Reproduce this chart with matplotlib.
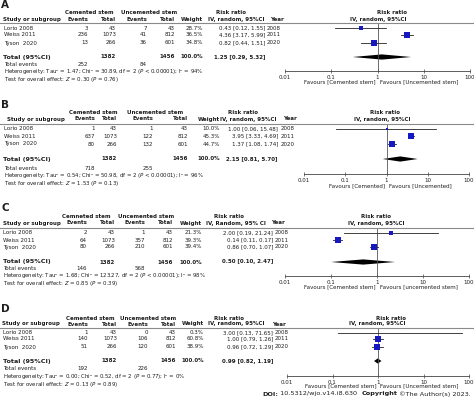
import matplotlib
matplotlib.use('Agg')
import matplotlib.pyplot as plt
from matplotlib.lines import Line2D
from matplotlib.ticker import NullLocator

W, H = 474, 399

# shared study info
studies = ['Lorio 2008', 'Weiss 2011', 'Tyson  2020']
years = ['2008', '2011', '2020']
cem_total = [43, 1073, 266]
unc_total = [43, 812, 601]

# panel A
a_cem_events = [3, 236, 13]
a_unc_events = [7, 41, 36]
a_weight = [28.7, 36.5, 34.8]
a_rr = [0.43, 4.36, 0.82]
a_lo = [0.12, 3.17, 0.44]
a_hi = [1.55, 5.99, 1.51]
a_total = [1.25, 0.29, 5.32]
a_het = 'Heterogeneity: Tau² = 1.47; Chi² = 30.89, df = 2 ($\\it{P}$ < 0.00001); I² = 94%'
a_test = 'Test for overall effect: $\\it{Z}$ = 0.30 ($\\it{P}$ = 0.76)'

# panel B
b_cem_events = [1, 637, 80]
b_unc_events = [1, 122, 132]
b_weight = [10.0, 45.3, 44.7]
b_rr = [1.00, 3.95, 1.37]
b_lo = [0.06, 3.33, 1.08]
b_hi = [15.48, 4.69, 1.74]
b_total = [2.15, 0.81, 5.70]
b_het = 'Heterogeneity: Tau² = 0.54; Chi² = 50.98, df = 2 ($\\it{P}$ < 0.00001); I² = 96%'
b_test = 'Test for overall effect: $\\it{Z}$ = 1.53 ($\\it{P}$ = 0.13)'

# panel C
c_cem_events = [2, 64, 80]
c_unc_events = [1, 357, 210]
c_weight = [21.3, 39.3, 39.4]
c_rr = [2.00, 0.14, 0.86]
c_lo = [0.19, 0.11, 0.70]
c_hi = [21.24, 0.17, 1.07]
c_total = [0.50, 0.10, 2.47]
c_het = 'Heterogeneity: Tau² = 1.68; Chi² = 123.27, df = 2 ($\\it{P}$ < 0.00001); I² = 98%'
c_test = 'Test for overall effect: $\\it{Z}$ = 0.85 ($\\it{P}$ = 0.39)'

# panel D
d_cem_events = [1, 140, 51]
d_unc_events = [0, 106, 120]
d_weight = [0.3, 60.8, 38.9]
d_rr = [3.00, 1.00, 0.96]
d_lo = [0.13, 0.79, 0.72]
d_hi = [71.65, 1.26, 1.29]
d_total = [0.99, 0.82, 1.19]
d_het = 'Heterogeneity: Tau² = 0.00; Chi² = 0.52, df = 2 ($\\it{P}$ = 0.77); I² = 0%'
d_test = 'Test for overall effect: $\\it{Z}$ = 0.13 ($\\it{P}$ = 0.89)'

TXT = '#1e1e1e'
FS = 4.0

fig = plt.figure(figsize=(W / 100, H / 100), dpi=100)


def txt(x, y, s, ha='left', bold=False, size=FS):
    return fig.text(x / W, 1 - y / H, s, ha=ha, va='center', fontsize=size,
                    fontweight='bold' if bold else 'normal', color=TXT)


def panel(L, cem_ev, unc_ev, weight, rr, lo, hi, total, het, test, hdr):
    txt(L['lx'], L['ly'], L['name'], bold=True, size=7.5)
    # table header
    txt(L['cem_c'], L['h1'], hdr['cem'], ha='center', bold=True)
    txt(L['unc_c'], L['h1'], 'Uncemented stem', ha='center', bold=True)
    txt(L['rrh_c'], L['h1'], 'Risk ratio', ha='center', bold=True)
    txt(L['sh'], L['h2'], 'Study or subgroup', bold=True)
    txt(L['ev1'], L['h2'], 'Events', ha='right', bold=True)
    txt(L['tot1'], L['h2'], 'Total', ha='right', bold=True)
    txt(L['ev2'], L['h2'], 'Events', ha='right', bold=True)
    txt(L['tot2'], L['h2'], 'Total', ha='right', bold=True)
    txt(L['wt'], L['h2'], 'Weight', ha='right', bold=True)
    txt(L['ivh_c'], L['h2'], hdr['iv'], ha='center', bold=True)
    txt(L['yh'], L['h2'], 'Year', bold=True)
    txt(L['fr_rr'], L['h1'], 'Risk ratio', ha='center', bold=True)
    txt(L['fr_iv'], L['h2'], 'IV, random, 95%CI', ha='center', bold=True)
    fig.add_artist(Line2D([0, 1], [1 - L['line'] / H] * 2, color='#8a8a8a', lw=0.8))

    # study rows
    for i in range(3):
        y = L['rows'][i]
        txt(L['sx'], y, studies[i])
        txt(L['ev1'], y, str(cem_ev[i]), ha='right')
        txt(L['tot1'], y, str(cem_total[i]), ha='right')
        txt(L['ev2'], y, str(unc_ev[i]), ha='right')
        txt(L['tot2'], y, str(unc_total[i]), ha='right')
        txt(L['wt'], y, '%.1f%%' % weight[i], ha='right')
        txt(L['rr'], y, '%.2f [%.2f, %.2f]' % (rr[i], lo[i], hi[i]), ha='right')
        txt(L['yr'], y, years[i])

    y = L['total']
    txt(3, y, 'Total (95%CI)', bold=True, size=4.6)
    txt(L['tot1'], y, str(sum(cem_total)), ha='right', bold=True)
    txt(L['tot2'], y, str(sum(unc_total)), ha='right', bold=True)
    txt(L['wt'], y, '100.0%', ha='right', bold=True)
    txt(L['rr'], y, '%.2f [%.2f, %.2f]' % tuple(total), ha='right', bold=True)
    txt(L['sx'], L['events'], 'Total events')
    txt(L['ev1'], L['events'], str(sum(cem_ev)), ha='right')
    txt(L['ev2'], L['events'], str(sum(unc_ev)), ha='right')
    txt(L['sx'], L['het'], het, size=3.9)
    txt(L['sx'], L['test'], test, size=3.9)

    # forest part
    x0, x1, yt, yb = L['x0'], L['x1'], L['line'], L['axis']
    ax = fig.add_axes([x0 / W, 1 - yb / H, (x1 - x0) / W, (yb - yt) / H])
    ax.set_xscale('log')
    ax.set_xlim(0.01, 100)
    ax.set_ylim(yb, yt)
    ax.patch.set_alpha(0)
    for s in ['top', 'left', 'right']:
        ax.spines[s].set_visible(False)
    ax.spines['bottom'].set_linewidth(0.6)
    ax.spines['bottom'].set_color('#444444')
    ax.set_xticks([0.01, 0.1, 1, 10, 100])
    ax.set_xticklabels(['0.01', '0.1', '1', '10', '100'])
    ax.xaxis.set_minor_locator(NullLocator())
    ax.tick_params(axis='x', direction='inout', length=3, width=0.5, labelsize=FS,
                   pad=1.2, colors='#444444', labelcolor=TXT)
    ax.set_yticks([])
    ax.axvline(1, color='#555555', lw=0.6)
    for i in range(3):
        y = L['rows'][i]
        ax.plot([lo[i], hi[i]], [y, y], color='#222222', lw=0.6)
        ax.plot(rr[i], y, marker='s', ms=0.62 * weight[i] ** 0.5, color='#1818c0', mew=0)
    t, tlo, thi = total
    y = L['total']
    ax.fill([tlo, t, thi, t], [y, y - 2.6, y, y + 2.6], color='black', lw=0)
    ax.annotate(hdr['fav'][0], xy=(1, 0), xycoords=('data', 'axes fraction'),
                xytext=(-1.2, -L['fav'] / 1.389), textcoords='offset points',
                ha='right', va='center', fontsize=FS, color=TXT)
    ax.annotate(hdr['fav'][1], xy=(1, 0), xycoords=('data', 'axes fraction'),
                xytext=(1.8, -L['fav'] / 1.389), textcoords='offset points',
                ha='left', va='center', fontsize=FS, color=TXT)


lay_a = dict(name='A', lx=1, ly=5, h1=13, h2=19.5, line=23, rows=[28, 35, 43], total=57,
             events=64, het=71, test=79, axis=71, fav=11, x0=285, x1=470,
             sx=4, sh=3, ev1=88, tot1=116, ev2=147, tot2=175, wt=203, rr=265, yr=267, yh=270,
             cem_c=89, unc_c=149, rrh_c=231, ivh_c=236, fr_rr=392, fr_iv=378)
lay_b = dict(name='B', lx=1, ly=105, h1=112, h2=119, line=124, rows=[129, 136, 144], total=159,
             events=168, het=176, test=184, axis=174, fav=12, x0=304, x1=469,
             sx=4, sh=7, ev1=95, tot1=117, ev2=153, tot2=188, wt=220, rr=278, yr=281, yh=283,
             cem_c=93, unc_c=155, rrh_c=243, ivh_c=248, fr_rr=385, fr_iv=382)
lay_c = dict(name='C', lx=1, ly=208, h1=217, h2=223, line=228, rows=[233, 240, 247], total=262,
             events=269, het=276, test=284, axis=276, fav=11, x0=285, x1=469,
             sx=3, sh=3, ev1=87, tot1=115, ev2=145, tot2=173, wt=202, rr=273, yr=275, yh=271,
             cem_c=86, unc_c=146, rrh_c=229, ivh_c=236, fr_rr=376, fr_iv=376)
lay_d = dict(name='D', lx=1, ly=309, h1=318, h2=324, line=328, rows=[333, 339, 347], total=361,
             events=369, het=376.5, test=384.5, axis=376, fav=10, x0=287, x1=469,
             sx=3, sh=2, ev1=88, tot1=117, ev2=148, tot2=176, wt=204, rr=273, yr=275, yh=272,
             cem_c=90, unc_c=148, rrh_c=229, ivh_c=236, fr_rr=391, fr_iv=377)

panel(lay_a, a_cem_events, a_unc_events, a_weight, a_rr, a_lo, a_hi, a_total, a_het, a_test,
      dict(cem='Cemented stem', iv='IV, random, 95%CI',
           fav=['Favours [Cemented stem]', 'Favours [Uncemented stem]']))
panel(lay_b, b_cem_events, b_unc_events, b_weight, b_rr, b_lo, b_hi, b_total, b_het, b_test,
      dict(cem='Cemented stem', iv='IV, random, 95%CI',
           fav=['Favours [Cemented]', 'Favours [Uncemented]']))
panel(lay_c, c_cem_events, c_unc_events, c_weight, c_rr, c_lo, c_hi, c_total, c_het, c_test,
      dict(cem='Cemneted stem', iv='IV, Random, 95% CI',
           fav=['Favours [Cemented stem]', 'Favours [uncemented stem]']))
panel(lay_d, d_cem_events, d_unc_events, d_weight, d_rr, d_lo, d_hi, d_total, d_het, d_test,
      dict(cem='Cemented stem', iv='IV, random, 95%CI',
           fav=['Favours [Cemented stem]', 'Favours [Uncemented stem]']))

# source line, pieces chained left to right
r = fig.canvas.get_renderer()
x = 262
for s, b in [('DOI:', True), (' 10.5312/wjo.v14.i8.630  ', False), ('Copyright', True),
             (' ©The Author(s) 2023.', False)]:
    t = txt(x, 394, s, bold=b, size=4.65)
    x += t.get_window_extent(r).width

fig.savefig('out.png', dpi=100, facecolor='white')
